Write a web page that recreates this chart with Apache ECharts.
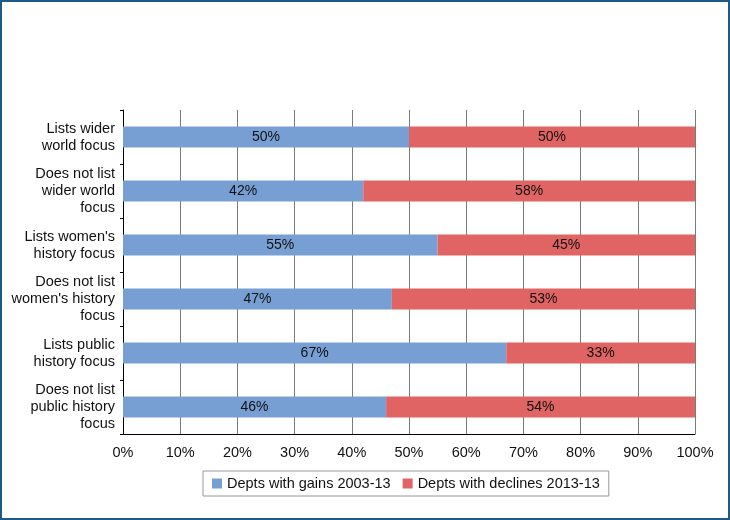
<!DOCTYPE html>
<html>
<head>
<meta charset="utf-8">
<script src="https://cdn.jsdelivr.net/npm/echarts@6/dist/echarts.min.js"></script>
<style>
html,body{margin:0;padding:0;background:#fff;}
#frame{width:730px;height:520px;box-sizing:border-box;border:2px solid #1d5a87;position:relative;}
#chart{position:absolute;left:-2px;top:-2px;width:730px;height:520px;}
</style>
</head>
<body>
<div id="frame"><div id="chart"></div></div>
<script>
const categories = [
  "Lists wider\nworld focus",
  "Does not list\nwider world\nfocus",
  "Lists women's\nhistory focus",
  "Does not list\nwomen's history\nfocus",
  "Lists public\nhistory focus",
  "Does not list\npublic history\nfocus"
];
const gains = [50, 42, 55, 47, 67, 46];
const declines = [50, 58, 45, 53, 33, 54];
const seriesNames = ["Depts with gains 2003-13", "Depts with declines 2013-13"];

const font = "Liberation Sans, Arial, Helvetica, sans-serif";
const chart = echarts.init(document.getElementById('chart'));
chart.setOption({
  animation: false,
  textStyle: {fontFamily: font},
  grid: {left: 123, right: 35, top: 110, bottom: 86},
  legend: {
    top: 471, left: 203,
    itemWidth: 10, itemHeight: 10, itemGap: 12,
    padding: [5, 9],
    borderColor: '#999', borderWidth: 1,
    icon: 'rect',
    textStyle: {fontSize: 14.5, color: '#111', fontFamily: font},
    data: seriesNames
  },
  xAxis: {
    type: 'value', min: 0, max: 100, interval: 10,
    axisLabel: {formatter: '{value}%', fontSize: 14.5, color: '#111', margin: 11, fontFamily: font},
    axisLine: {show: true, lineStyle: {color: '#000', width: 1}},
    axisTick: {show: false},
    splitLine: {show: true, lineStyle: {color: '#7a7a7a', width: 1}}
  },
  yAxis: {
    type: 'category', inverse: true, data: categories,
    axisLine: {show: true, lineStyle: {color: '#000', width: 1}},
    axisTick: {show: true, length: 3, lineStyle: {color: '#000'}},
    axisLabel: {fontSize: 14.5, color: '#111', lineHeight: 17, margin: 8, align: 'right', fontFamily: font}
  },
  series: [
    {
      name: seriesNames[0], type: 'bar', stack: 'a', data: gains, barWidth: 21,
      itemStyle: {color: '#789fd3'},
      label: {show: true, position: 'inside', formatter: '{c}%', color: '#111', fontSize: 14, fontFamily: font}
    },
    {
      name: seriesNames[1], type: 'bar', stack: 'a', data: declines, barWidth: 21,
      itemStyle: {color: '#e06464'},
      label: {show: true, position: 'inside', formatter: '{c}%', color: '#111', fontSize: 14, fontFamily: font}
    }
  ]
});
</script>
</body>
</html>
